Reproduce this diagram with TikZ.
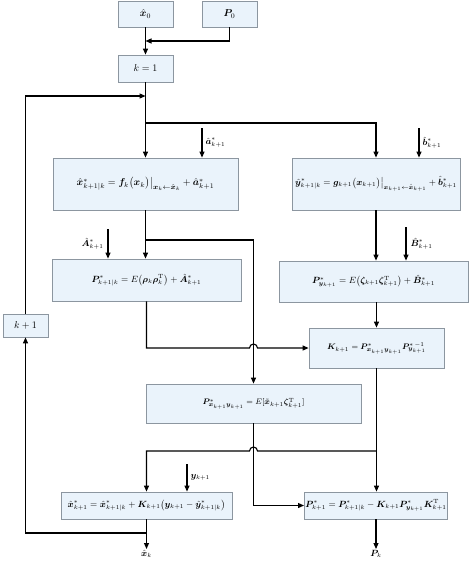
\documentclass[tikz,border=0pt]{standalone}
\usepackage{amsmath}
\usepackage{bm}
\usetikzlibrary{arrows.meta,calc}
\definecolor{boxfill}{RGB}{234,243,251}
\definecolor{boxline}{RGB}{140,150,160}
\tikzset{
  box/.style={draw=boxline,fill=boxfill,line width=0.8pt,inner sep=1pt,font=\small},
  arr/.style={line width=1.1pt,-{Triangle[length=6pt,width=5pt]}},
  lab/.style={font=\small,inner sep=1pt}
}
\begin{document}
\begin{tikzpicture}[x=1pt,y=-1pt]
\useasboundingbox[fill=white] (0,0) rectangle (474,568);
% boxes
\node[box,font=\normalsize,minimum width=55pt,minimum height=26pt] (x0) at (145.5,14) {$\hat{\bm x}_0$};
\node[box,font=\normalsize,minimum width=55pt,minimum height=26pt] (P0) at (229.5,14) {$\bm P_0$};
\node[box,font=\normalsize,minimum width=55pt,minimum height=27pt] (k1) at (145.5,68.5) {$k=1$};
\node[box,font=\normalsize,minimum width=185pt,minimum height=52pt] (xh) at (145.5,184)
  {$\hat{\bm x}^{*}_{k+1|k}=\bm f_k\bigl(\bm x_k\bigr)\big|_{\bm x_k\leftarrow\hat{\bm x}_k}+\hat{\bm a}^{*}_{k+1}$};
\node[box,minimum width=168pt,minimum height=52pt] (yh) at (376,184)
  {$\hat{\bm y}^{*}_{k+1|k}=\bm g_{k+1}\bigl(\bm x_{k+1}\bigr)\big|_{\bm x_{k+1}\leftarrow\hat{\bm x}_{k+1}}+\hat{\bm b}^{*}_{k+1}$};
\node[box,minimum width=189pt,minimum height=42pt] (P) at (146.5,280)
  {$\bm P^{*}_{k+1|k}=E\bigl(\bm\rho_k\bm\rho_k^{\mathrm T}\bigr)+\hat{\bm A}^{*}_{k+1}$};
\node[box,minimum width=189pt,minimum height=41pt] (Py) at (373.5,281.5)
  {$\bm P^{*}_{\bm y_{k+1}}=E\bigl(\bm\zeta_{k+1}\bm\zeta_{k+1}^{\mathrm T}\bigr)+\hat{\bm B}^{*}_{k+1}$};
\node[box,font=\footnotesize,minimum width=135pt,minimum height=40pt] (K) at (376.5,348)
  {$\bm K_{k+1}=\bm P^{*}_{\bm x_{k+1}\bm y_{k+1}}\bm P^{*\,-1}_{\bm y_{k+1}}$};
\node[box,font=\footnotesize,minimum width=215pt,minimum height=39pt] (Pxy) at (253.5,403.5)
  {$\bm P^{*}_{\bm x_{k+1}\bm y_{k+1}}=E[\tilde{\bm x}_{k+1}\bm\zeta^{\mathrm T}_{k+1}]$};
\node[box,minimum width=171pt,minimum height=27pt] (xk1) at (146.5,505.5)
  {$\hat{\bm x}^{*}_{k+1}=\hat{\bm x}^{*}_{k+1|k}+\bm K_{k+1}\bigl(\bm y_{k+1}-\hat{\bm y}^{*}_{k+1|k}\bigr)$};
\node[box,minimum width=136pt,minimum height=27pt] (Pk1) at (376,505.5)
  {$\bm P^{*}_{k+1}=\bm P^{*}_{k+1|k}-\bm K_{k+1}\bm P^{*}_{\bm y_{k+1}}\bm K^{\mathrm T}_{k+1}$};
\node[box,font=\normalsize,minimum width=45pt,minimum height=23pt] (kp1) at (25.5,325.5) {$k+1$};
% outputs
\node[lab,anchor=north] (xk) at (146.5,549) {$\hat{\bm x}_k$};
\node[lab,anchor=north] (Pk) at (376,549) {$\bm P_k$};
% helper coordinates
\coordinate (j0) at (145.5,41);
\coordinate (fb) at (145.5,96);
\coordinate (b1) at (145.5,123);
\coordinate (b2) at (145.5,240);
\coordinate (ya) at (0,451);
\coordinate (yf) at (0,533);
\coordinate (a1) at (202,128);
\coordinate (bb1) at (419,128);
\coordinate (A1) at (108,229);
\coordinate (B1) at (406,227);
\coordinate (y1) at (187,464);
% connectors
\draw[arr] (x0.south) -- (k1.north);
\draw[arr] (P0.south) |- (j0);
\draw[arr] (k1.south) -- (xh.north);
\draw[arr] (kp1.north) |- (fb);
\draw[arr] (b1) -| (yh.north);
\draw[arr] (a1) -- (a1 |- xh.north) node[lab,midway,right=2pt] {$\hat{\bm a}^{*}_{k+1}$};
\draw[arr] (bb1) -- (bb1 |- yh.north) node[lab,midway,right=2pt] {$\hat{\bm b}^{*}_{k+1}$};
\draw[arr] (xh.south) -- (xh.south |- P.north);
\draw[arr] (b2) -| (Pxy.north);
\draw[arr] (A1) -- (A1 |- P.north) node[lab,midway,left=3pt] {$\hat{\bm A}^{*}_{k+1}$};
\draw[arr] (P.south) -- (P.south |- K.west) -- ([xshift=-4pt]Pxy.north |- K.west)
  arc[start angle=180,end angle=0,radius=4pt] -- (K.west);
\draw[arr] (yh.south) -- (yh.south |- Py.north);
\draw[arr] (B1) -- (B1 |- Py.north) node[lab,midway,right=3pt] {$\hat{\bm B}^{*}_{k+1}$};
\draw[arr] (K.north |- Py.south) -- (K.north);
\draw[arr] (Pxy.south) |- (Pk1.west);
\draw[arr] (K.south) -- (K.south |- Pk1.north);
\draw[arr] (K.south |- ya) -- ([xshift=4pt]Pxy.south |- ya)
  arc[start angle=0,end angle=180,radius=4pt] -- (xk1.north |- ya) -- (xk1.north);
\draw[arr] (y1) -- (y1 |- xk1.north) node[lab,midway,right=2pt] {$\bm y_{k+1}$};
\draw[arr] (xk1.south) -- (xk.north);
\draw[arr] (Pk1.south) -- (Pk.north);
\draw[arr] (xk1.south |- yf) -| (kp1.south);
\end{tikzpicture}
\end{document}
